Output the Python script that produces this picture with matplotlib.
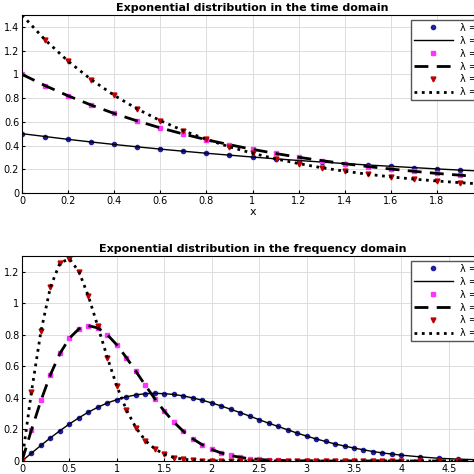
import matplotlib.pyplot as plt

# time domain values
xt = [0.0, 0.1, 0.2, 0.3, 0.4, 0.5, 0.6, 0.7, 0.8, 0.9, 1.0, 1.1, 1.2, 1.3, 1.4, 1.5, 1.6, 1.7, 1.8, 1.9, 2.0]
t05 = [0.5, 0.476, 0.452, 0.430, 0.409, 0.389, 0.370, 0.352, 0.335, 0.319, 0.303, 0.288, 0.274, 0.261, 0.248, 0.236, 0.225, 0.214, 0.203, 0.193, 0.184]
t10 = [1.0, 0.905, 0.819, 0.741, 0.670, 0.607, 0.549, 0.497, 0.449, 0.407, 0.368, 0.333, 0.301, 0.273, 0.247, 0.223, 0.202, 0.183, 0.165, 0.150, 0.135]
t15 = [1.5, 1.291, 1.111, 0.956, 0.823, 0.708, 0.610, 0.525, 0.452, 0.389, 0.335, 0.288, 0.248, 0.213, 0.184, 0.158, 0.136, 0.117, 0.101, 0.087, 0.075]

# frequency domain values
xf = [round(0.1 * i, 1) for i in range(41)] + [4.2, 4.4, 4.6, 4.8]
f05 = [0, 0.050, 0.099, 0.147, 0.192, 0.235, 0.274, 0.310, 0.341, 0.368, 0.389, 0.407, 0.419, 0.427, 0.429,
       0.427, 0.422, 0.413, 0.400, 0.386, 0.368, 0.349, 0.328, 0.307, 0.285, 0.262, 0.240, 0.219, 0.198, 0.177,
       0.158, 0.140, 0.124, 0.108, 0.095, 0.082, 0.071, 0.060, 0.051, 0.044, 0.037, 0.026, 0.017, 0.012, 0.008]
f10 = [0, 0.198, 0.384, 0.548, 0.682, 0.779, 0.838, 0.858, 0.844, 0.801, 0.736, 0.656, 0.569, 0.480, 0.395,
       0.316, 0.247, 0.189, 0.141, 0.103, 0.073, 0.051, 0.035, 0.023, 0.015, 0.010, 0.006, 0.004, 0.002, 0.001,
       0.001] + [0] * 14
f15 = [0, 0.440, 0.823, 1.103, 1.256, 1.282, 1.201, 1.045, 0.853, 0.656, 0.474, 0.325, 0.212, 0.130, 0.077,
       0.043, 0.022, 0.011, 0.006, 0.003, 0.001] + [0] * 24

labels = ['λ = 0.5', 'λ = 0.5', 'λ = 1', 'λ = 1', 'λ = 1.5', 'λ = 1.5']

fig = plt.figure(figsize=(4.74, 4.74), dpi=100)
ax1 = fig.add_axes([22 / 474, 1 - 193 / 474, 461 / 474, 178 / 474])
ax2 = fig.add_axes([22 / 474, 1 - 461 / 474, 461 / 474, 205 / 474])


def draw(ax, x, a, b, c, xmax, ymax, title, yt):
    ax.plot(x, a, 'o', color='#1f1fa0', ms=3, label=labels[0])
    ax.plot(x, a, '-', color='k', lw=1, label=labels[1])
    ax.plot(x, b, 's', color='#ff33ff', ms=3.5, label=labels[2])
    ax.plot(x, b, '--', color='k', lw=2, dashes=(5, 3), label=labels[3])
    ax.plot(x, c, 'v', color='#c00000', ms=3.5, label=labels[4])
    ax.plot(x, c, ':', color='k', lw=2, label=labels[5])
    ax.set_xlim(0, xmax)
    ax.set_ylim(0, ymax)
    ax.set_yticks(yt)
    ax.set_title(title, fontsize=8, fontweight='bold', pad=3)
    ax.set_xlabel('x', fontsize=8, labelpad=1)
    ax.tick_params(labelsize=7, direction='in', length=2, pad=2)
    ax.grid(True, color='#dddddd', lw=0.7)
    ax.legend(loc='upper right', bbox_to_anchor=(1.045, 1.0), fontsize=7, fancybox=False,
              edgecolor='#555555', framealpha=1, handlelength=4, borderpad=0.3, labelspacing=0.3)


draw(ax1, xt, t05, t10, t15, 2.0, 1.5, 'Exponential distribution in the time domain',
     [0, 0.2, 0.4, 0.6, 0.8, 1, 1.2, 1.4])
ax1.set_xticks([0, 0.2, 0.4, 0.6, 0.8, 1, 1.2, 1.4, 1.6, 1.8])
ax1.set_xticklabels(['0', '0.2', '0.4', '0.6', '0.8', '1', '1.2', '1.4', '1.6', '1.8'])
ax1.set_yticklabels(['0', '0.2', '0.4', '0.6', '0.8', '1', '1.2', '1.4'])
draw(ax2, xf, f05, f10, f15, 4.86, 1.3, 'Exponential distribution in the frequency domain',
     [0, 0.2, 0.4, 0.6, 0.8, 1, 1.2])
ax2.set_xticks([0, 0.5, 1, 1.5, 2, 2.5, 3, 3.5, 4, 4.5])
ax2.set_xticklabels(['0', '0.5', '1', '1.5', '2', '2.5', '3', '3.5', '4', '4.5'])
ax2.set_yticklabels(['0', '0.2', '0.4', '0.6', '0.8', '1', '1.2'])

fig.savefig('out.png', dpi=100)
